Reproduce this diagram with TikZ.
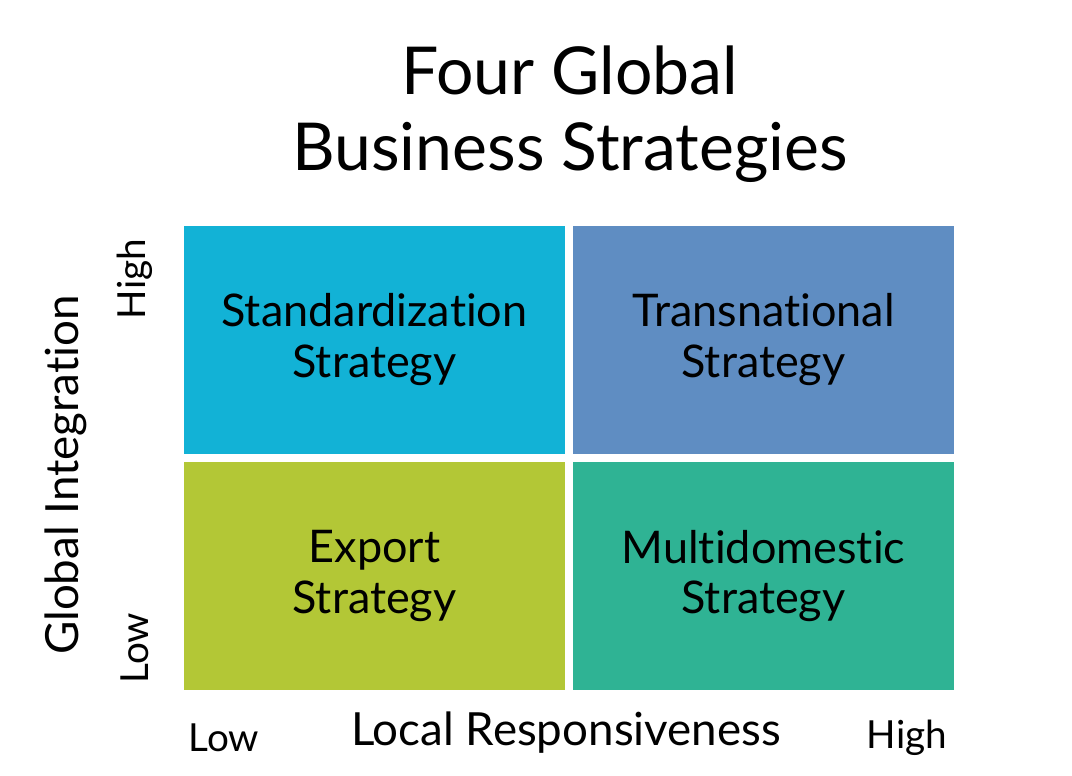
\documentclass[tikz,border=0pt]{standalone}
\usepackage{fontspec}
\setmainfont{Lato}[Ligatures=NoCommon]
\usetikzlibrary{positioning}
\definecolor{stdcyan}{HTML}{12B2D6}
\definecolor{transblue}{HTML}{5F8DC2}
\definecolor{exportgreen}{HTML}{B3C736}
\definecolor{multiteal}{HTML}{2FB394}
\tikzset{
    quad/.style = {
        shape=rectangle,
        inner sep=0pt,
        minimum width=381*0.025cm,
        minimum height=228*0.025cm,
        align=center,
        font=\fontsize{32}{36}\selectfont
    },
    axislabel/.style = {
        inner sep=0pt,
        font=\fontsize{32.5}{36}\selectfont
    },
    ticklabel/.style = {
        inner sep=0pt,
        font=\fontsize{27.5}{30}\selectfont
    },
    title/.style = {
        inner sep=0pt,
        align=center,
        font=\fontsize{47}{54}\selectfont
    },
}

\begin{document}
\begin{tikzpicture}[x=0.025cm, y=-0.025cm]
    \useasboundingbox[fill=white] (0,0) rectangle (1072,776);

    % the four strategy boxes
    \node[quad, fill=stdcyan] (std) at (374.5,339.5) {Standardization\\Strategy};
    \node[quad, fill=transblue] (trans) at (763.5,339.5) {Transnational\\Strategy};
    \node[quad, fill=exportgreen] (export) at (374.5,576) {Export\\Strategy};
    \node[quad, fill=multiteal] (multi) at (763.5,576) {Multidomestic\\Strategy};

    % title
    \node[title] (head) at (570,114) {Four Global\\Business Strategies};

    % axes
    \node[axislabel, rotate=90] (gint) at (66,475) {Global Integration};
    \node[ticklabel, rotate=90] (ghigh) at (135,279) {High};
    \node[ticklabel, rotate=90] (glow) at (135,648) {Low};
    \node[axislabel] (lresp) at (566,733) {Local Responsiveness};
    \node[ticklabel] (llow) at (224,738) {Low};
    \node[ticklabel] (lhigh) at (907,738) {High};
\end{tikzpicture}
\end{document}
